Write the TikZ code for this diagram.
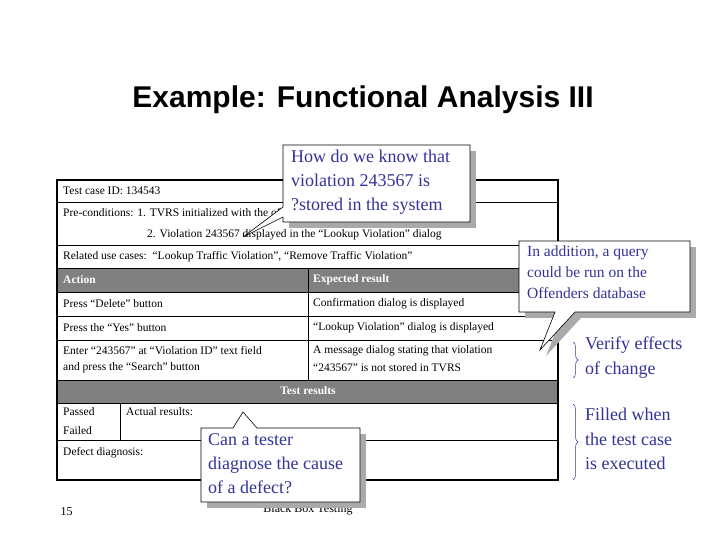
\documentclass[tikz,border=0pt]{standalone}
\usepackage{fontspec}
\setmainfont{Liberation Serif}
\newfontfamily\titlefont{Liberation Sans}
\usetikzlibrary{decorations.pathreplacing}
\definecolor{cblue}{RGB}{51,51,153}
\definecolor{hgray}{RGB}{128,128,128}
\definecolor{sgray}{RGB}{170,170,170}
\tikzset{
 cell/.style={anchor=west,font=\fontsize{11.5}{13}\selectfont,inner sep=0pt},
 hcell/.style={cell,text=white,font=\fontsize{11.5}{13}\selectfont\bfseries},
 ctext/.style={anchor=north west,align=left,text=cblue,font=\fontsize{18}{24}\selectfont,inner sep=0pt},
 callout/.style={fill=white,draw=black,line width=0.6pt},
 shadow/.style={fill=sgray},
 side/.style={anchor=north west,align=left,text=cblue,font=\fontsize{18}{24.5}\selectfont,inner sep=0pt},
 brc/.style={draw=cblue,decorate,decoration={brace,amplitude=5pt},line width=0.5pt}
}
\begin{document}
\begin{tikzpicture}[x=1pt,y=-1pt]
\useasboundingbox (0,0) rectangle (728,546);
\fill[white] (0,0) rectangle (728,546);
\node[font=\titlefont\fontsize{30}{32}\selectfont\bfseries] (title) at (363,100) {Example: Functional Analysis III};
% table
\fill[hgray] (57,268) rectangle (558,292);
\fill[hgray] (57,380) rectangle (558,403);
\draw[line width=0.5pt] (57,202) -- (558,202) (57,245) -- (558,245) (57,268) -- (558,268)
 (57,292) -- (558,292) (57,316) -- (558,316) (57,340) -- (558,340) (57,380) -- (558,380)
 (57,403) -- (558,403) (57,440) -- (558,440)
 (308,268) -- (308,380) (120,403) -- (120,440);
\draw[line width=1.3pt] (57,180) rectangle (558,480);
\node[cell] (c1) at (63,191) {Test case ID: 134543};
\node[cell] (c2) at (63,213) {Pre-conditions: 1. TVRS initialized with the offenders database};
\node[cell] (c2b) at (147,235) {2. Violation 243567 displayed in the ``Lookup Violation'' dialog};
\node[cell] (c3) at (63,257) {Related use cases:\ \ ``Lookup Traffic Violation'', ``Remove Traffic Violation''};
\node[hcell] (h1) at (63,280) {Action};
\node[hcell] (h2) at (313,280) {Expected result};
\node[cell] (a1) at (63,304) {Press ``Delete'' button};
\node[cell] (e1) at (313,304) {Confirmation dialog is displayed};
\node[cell] (a2) at (63,328) {Press the ``Yes'' button};
\node[cell] (e2) at (313,328) {``Lookup Violation'' dialog is displayed};
\node[cell] (a3) at (63,351) {Enter ``243567'' at ``Violation ID'' text field};
\node[cell] (a3b) at (63,368) {and press the ``Search'' button};
\node[cell] (e3) at (313,351) {A message dialog stating that violation};
\node[cell] (e3b) at (313,368) {``243567'' is not stored in TVRS};
\node[hcell] (tr) at (308,391) [anchor=center] {Test results};
\node[cell] (p) at (63,412) {Passed};
\node[cell] (f) at (63,431) {Failed};
\node[cell] (ar) at (126,412) {Actual results:};
\node[cell] (dd) at (63,453) {Defect diagnosis:};
% footer
\node[anchor=west,font=\fontsize{12}{13}\selectfont] (pg) at (57,512) {15};
\node[font=\fontsize{12}{13}\selectfont] (bb) at (308,510) {Black Box Testing};
% callout 1
\fill[shadow] (289,151) rectangle (476,228);
\draw[callout] (283,145) -- (470,145) -- (470,222) -- (283,222) -- (283,217) -- (243,237) -- (283,207) -- cycle;
\node[ctext] (t1) at (291,150) {How do we know that\\violation 243567 is\\?stored in the system};
% callout 2
\fill[shadow] (525,247) rectangle (696,318);
\fill[shadow] (561,318) -- (546,356) -- (581,318) -- cycle;
\draw[callout] (519,241) -- (690,241) -- (690,312) -- (575,312) -- (540,350) -- (555,312) -- (519,312) -- cycle;
\node[ctext,font=\fontsize{15.5}{21}\selectfont] (t2) at (527,246) {In addition, a query\\could be run on the\\Offenders database};
% callout 3
\fill[shadow] (207,434) rectangle (366,508);
\draw[callout] (201,428) -- (233,428) -- (243,412) -- (257,428) -- (360,428) -- (360,502) -- (201,502) -- cycle;
\node[ctext] (t3) at (208,433) {Can a tester\\diagnose the cause\\of a defect?};
% braces
\draw[brc] (573,342) -- (573,378);
\node[side] (v) at (585,337) {Verify effects\\of change};
\draw[brc] (573,404) -- (573,480);
\node[side] (fw) at (585,408) {Filled when\\the test case\\is executed};
\end{tikzpicture}
\end{document}
